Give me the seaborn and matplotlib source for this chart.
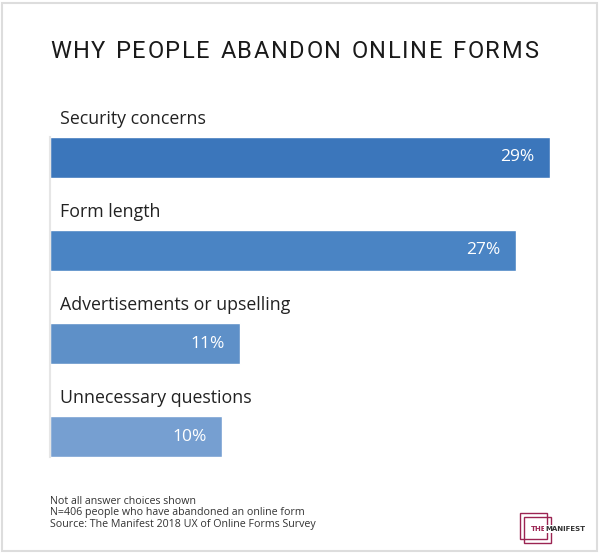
import numpy as np
import pandas as pd
import seaborn as sns
import matplotlib.pyplot as plt
from matplotlib.patches import Rectangle

reasons = ["Security concerns", "Form length", "Advertisements or upselling", "Unnecessary questions"]
shares = [29, 27, 11, 10]
bar_colors = ["#3b76bb", "#4a84c4", "#5e90c8", "#769fd1"]
title = "WHY PEOPLE ABANDON ONLINE FORMS"
notes = ["Not all answer choices shown",
         "N=406 people who have abandoned an online form",
         "Source: The Manifest 2018 UX of Online Forms Survey"]

df = pd.DataFrame({"reason": reasons, "share": shares})

sns.set_style("white")
plt.rcParams["font.family"] = ["Open Sans", "DejaVu Sans"]

W, H = 600, 553
fig = plt.figure(figsize=(6, 5.53), dpi=100)

# axes spans the bars: x 50..550 px, y 137..457 px
ax = fig.add_axes([50 / W, 1 - 457 / H, 500 / W, 320 / H])
sns.barplot(data=df, x="share", y="reason", hue="reason", palette=bar_colors,
            legend=False, width=0.44, saturation=1, ax=ax)
ax.set_xlim(0, max(shares))
ax.set_ylim(len(reasons) - 1 + 0.22, -0.22)
ax.set_xlabel("")
ax.set_ylabel("")
ax.set_xticks([])
ax.set_yticks([])
for side in ["top", "right", "bottom"]:
    ax.spines[side].set_visible(False)
ax.spines["left"].set_color("#e6e6e6")
ax.spines["left"].set_linewidth(1.5)

for i, (r, v) in enumerate(zip(reasons, shares)):
    ax.annotate(r, xy=(0, i), xytext=(7, 28), textcoords="offset points",
                ha="left", va="center", fontsize=12.8, color="#222222",
                annotation_clip=False)
    ax.annotate(f"{v}%", xy=(v, i), xytext=(-11, 0), textcoords="offset points",
                ha="right", va="center", fontsize=12.5, color="white")

# title: letters placed one by one to get the wide tracking
renderer = fig.canvas.get_renderer()
letters = []
for ch in title:
    if ch == " ":
        letters.append((ch, None, 0))
        continue
    t = fig.text(0, 1 - 52 / H, ch, ha="left", va="center", fontsize=17,
                 color="#1a1a1a", family=["Roboto", "DejaVu Sans"])
    letters.append((ch, t, t.get_window_extent(renderer).width))
left, right, word_gap = 50, 538, 9
n_gaps = len(title) - 1 - title.count(" ")
free = (right - left) - sum(w for _, _, w in letters) - word_gap * title.count(" ")
track = free / n_gaps
x = left
for ch, t, w in letters:
    if t is None:
        x += word_gap
        continue
    t.set_x(x / W)
    x += w + track

for k, line in enumerate(notes):
    fig.text(50 / W, 1 - (501 + 12 * k) / H, line, ha="left", va="center",
             fontsize=7.7, color="#333333")

# border
fig.patches.append(Rectangle((2 / W, 2 / H), 595 / W, 548 / H, transform=fig.transFigure,
                             fill=False, edgecolor="#dddddd", linewidth=1.5))

# logo
maroon = "#9b2452"
fig.patches.append(Rectangle((520 / W, 1 - 539 / H), 27 / W, 26 / H, transform=fig.transFigure,
                             fill=False, edgecolor=maroon, linewidth=1))
fig.patches.append(Rectangle((524 / W, 1 - 543 / H), 27 / W, 26 / H, transform=fig.transFigure,
                             fill=False, edgecolor=maroon, linewidth=1))
fig.text(531 / W, 1 - 529 / H, "THE", ha="left", va="center", fontsize=5,
         fontweight="bold", color=maroon, family="DejaVu Sans",
         bbox=dict(facecolor="white", edgecolor="none", pad=0.5))
fig.text(545 / W, 1 - 529 / H, "MANIFEST", ha="left", va="center", fontsize=5,
         fontweight="bold", color="#333333", family="DejaVu Sans",
         bbox=dict(facecolor="white", edgecolor="none", pad=0.5))

fig.savefig("out.png", dpi=100, facecolor="white")
